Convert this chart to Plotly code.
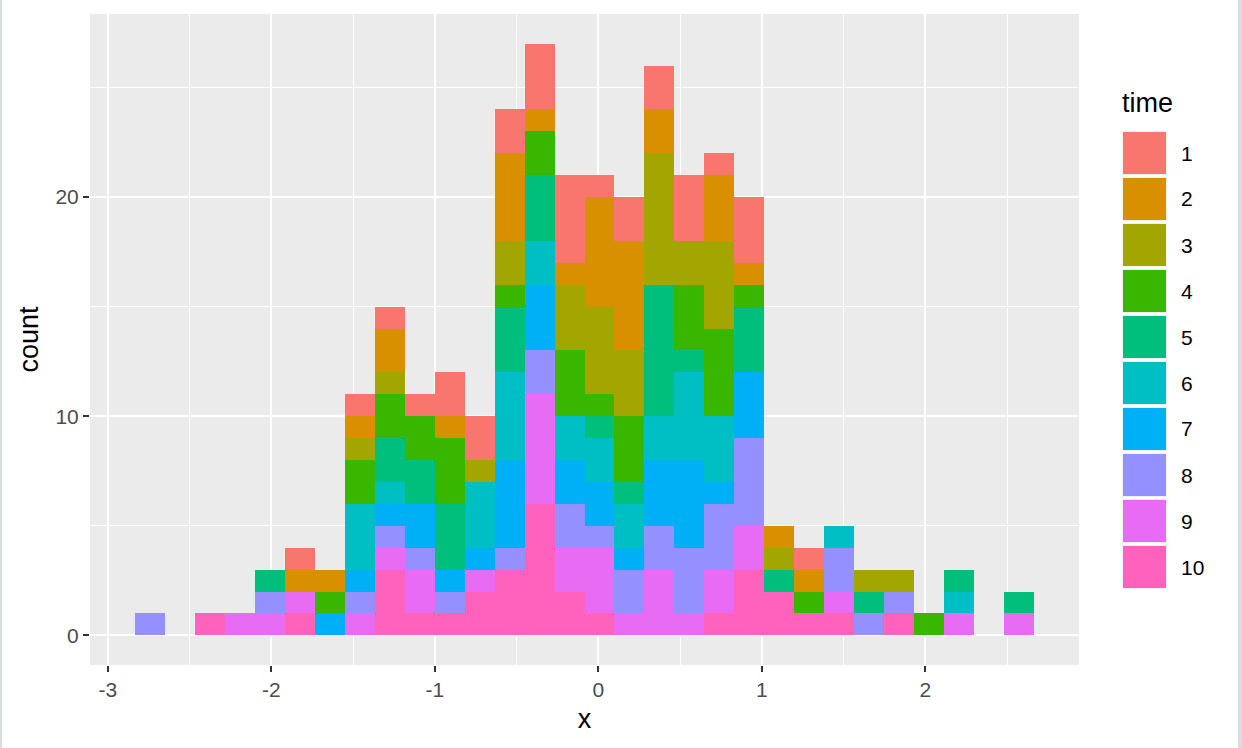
import plotly.graph_objects as go

# histogram counts per bin (30 bins), one list per "time" group
bin_start = -2.834
bin_width = 0.1833
n_bins = 30

t1 = [0,0,0,0,0,1,0,1,1,1,2,2,2,3,4,1,2,2,3,1,3,0,1,0,0,0,0,0,0,0]
t2 = [0,0,0,0,0,1,1,1,2,0,1,0,4,1,1,5,5,2,0,3,1,1,1,0,0,0,0,0,0,0]
t3 = [0,0,0,0,0,0,0,1,1,0,0,1,2,0,3,4,3,6,2,4,0,1,0,0,1,1,0,0,0,0]
t4 = [0,0,0,0,0,0,1,2,2,2,3,0,1,2,3,1,3,0,3,4,1,0,1,0,0,0,1,0,0,0]
t5 = [0,0,0,0,1,0,0,0,2,2,3,0,3,3,0,1,1,6,1,0,3,1,0,0,1,0,0,1,0,1]
t6 = [0,0,0,0,0,0,0,3,1,0,0,3,4,2,2,2,2,2,4,3,0,0,0,1,0,0,0,1,0,0]
t7 = [0,0,0,0,0,0,1,1,1,2,1,1,4,3,2,2,1,3,4,1,3,0,0,0,0,0,0,0,0,0]
t8 = [1,0,0,0,1,0,0,1,1,1,1,0,1,2,2,1,2,2,3,3,4,0,0,2,1,1,0,0,0,0]
t9 = [0,0,0,1,1,1,0,1,1,2,0,1,0,5,2,3,1,3,1,2,2,0,0,1,0,0,0,1,0,1]
t10 = [0,0,1,0,0,1,0,0,3,1,1,2,3,6,2,1,0,0,0,1,3,2,1,1,0,1,0,0,0,0]

groups = ['1','2','3','4','5','6','7','8','9','10']
counts = [t1, t2, t3, t4, t5, t6, t7, t8, t9, t10]
colors = ['#F8766D','#D89000','#A3A500','#39B600','#00BF7D',
          '#00BFC4','#00B0F6','#9590FF','#E76BF3','#FF62BC']

x_ticks = [-3, -2, -1, 0, 1, 2]
x_ticktext = ['-3', '-2', '-1', '0', '1', '2']
y_ticks = [0, 10, 20]
y_ticktext = ['0', '10', '20']

centers = [bin_start + bin_width*(i+0.5) for i in range(n_bins)]

fig = go.Figure()
# ggplot stacks group 1 on top, so add the last group first
for name, c, col in reversed(list(zip(groups, counts, colors))):
    fig.add_trace(go.Bar(
        x=centers, y=c, width=bin_width, name=name,
        marker=dict(color=col, line=dict(width=0)),
        showlegend=False,
    ))

span = bin_width*n_bins
xlo = bin_start - 0.05*span
xhi = bin_start + span + 0.05*span
ymax = max(sum(col) for col in zip(*counts))

W, H = 1242, 748
L, R, T, B = 90, 163, 14, 83
pw, ph = W - L - R, H - T - B

def xp(px):
    return (px - L)/pw

def yp(py):
    return (H - B - py)/ph

shapes = []
annotations = []

# legend drawn by hand so the keys are ggplot-sized squares
annotations.append(dict(x=xp(1120), y=yp(103), xref='paper', yref='paper',
                        text='time', showarrow=False, xanchor='left', yanchor='middle',
                        font=dict(size=27, color='black')))
for i, (name, col) in enumerate(zip(groups, colors)):
    top = 132 + 46*i
    shapes.append(dict(type='rect', xref='paper', yref='paper',
                       x0=xp(1122), x1=xp(1167), y0=yp(top - 1), y1=yp(top + 43),
                       fillcolor='#F2F2F2', line=dict(width=0), layer='above'))
    shapes.append(dict(type='rect', xref='paper', yref='paper',
                       x0=xp(1123), x1=xp(1166), y0=yp(top), y1=yp(top + 42),
                       fillcolor=col, line=dict(width=0), layer='above'))
    annotations.append(dict(x=xp(1179), y=yp(top + 21), xref='paper', yref='paper',
                            text=name, showarrow=False, xanchor='left', yanchor='middle',
                            font=dict(size=21, color='black')))

# thin grey frame at the left and right edges of the page
for x0, x1 in [(0, 2), (1238, 1242)]:
    shapes.append(dict(type='rect', xref='paper', yref='paper',
                       x0=xp(x0), x1=xp(x1), y0=yp(H), y1=yp(0),
                       fillcolor='#DADDE1', line=dict(width=0), layer='above'))

fig.update_layout(
    barmode='stack',
    bargap=0,
    width=W, height=H,
    margin=dict(l=L, r=R, t=T, b=B),
    paper_bgcolor='white',
    plot_bgcolor='#EBEBEB',
    font=dict(family='Liberation Sans, Arial, sans-serif', color='#4D4D4D'),
    shapes=shapes,
    annotations=annotations,
    showlegend=False,
)

fig.update_xaxes(
    range=[xlo, xhi], tickmode='array', tickvals=x_ticks, ticktext=x_ticktext,
    showgrid=True, gridcolor='white', gridwidth=2.2,
    minor=dict(tickmode='linear', dtick=0.5, tick0=0.5, showgrid=True,
               gridcolor='white', gridwidth=1.1),
    zeroline=False, ticks='outside', ticklen=6, tickwidth=2, tickcolor='#333333',
    tickfont=dict(size=21, color='#4D4D4D'),
    title=dict(text='x', font=dict(size=27, color='black'), standoff=8),
    automargin=False,
)
fig.update_yaxes(
    range=[-0.05*ymax, ymax*1.05], tickmode='array', tickvals=y_ticks, ticktext=y_ticktext,
    showgrid=True, gridcolor='white', gridwidth=2.2,
    minor=dict(tickmode='linear', dtick=5, tick0=5, showgrid=True,
               gridcolor='white', gridwidth=1.1),
    zeroline=False, ticks='outside', ticklen=6, tickwidth=2, tickcolor='#333333',
    tickfont=dict(size=21, color='#4D4D4D'),
    title=dict(text='count', font=dict(size=27, color='black'), standoff=8),
    automargin=False,
)

fig.write_html("out.html", config=dict(displayModeBar=False),
               post_script="document.body.style.margin='0';")
